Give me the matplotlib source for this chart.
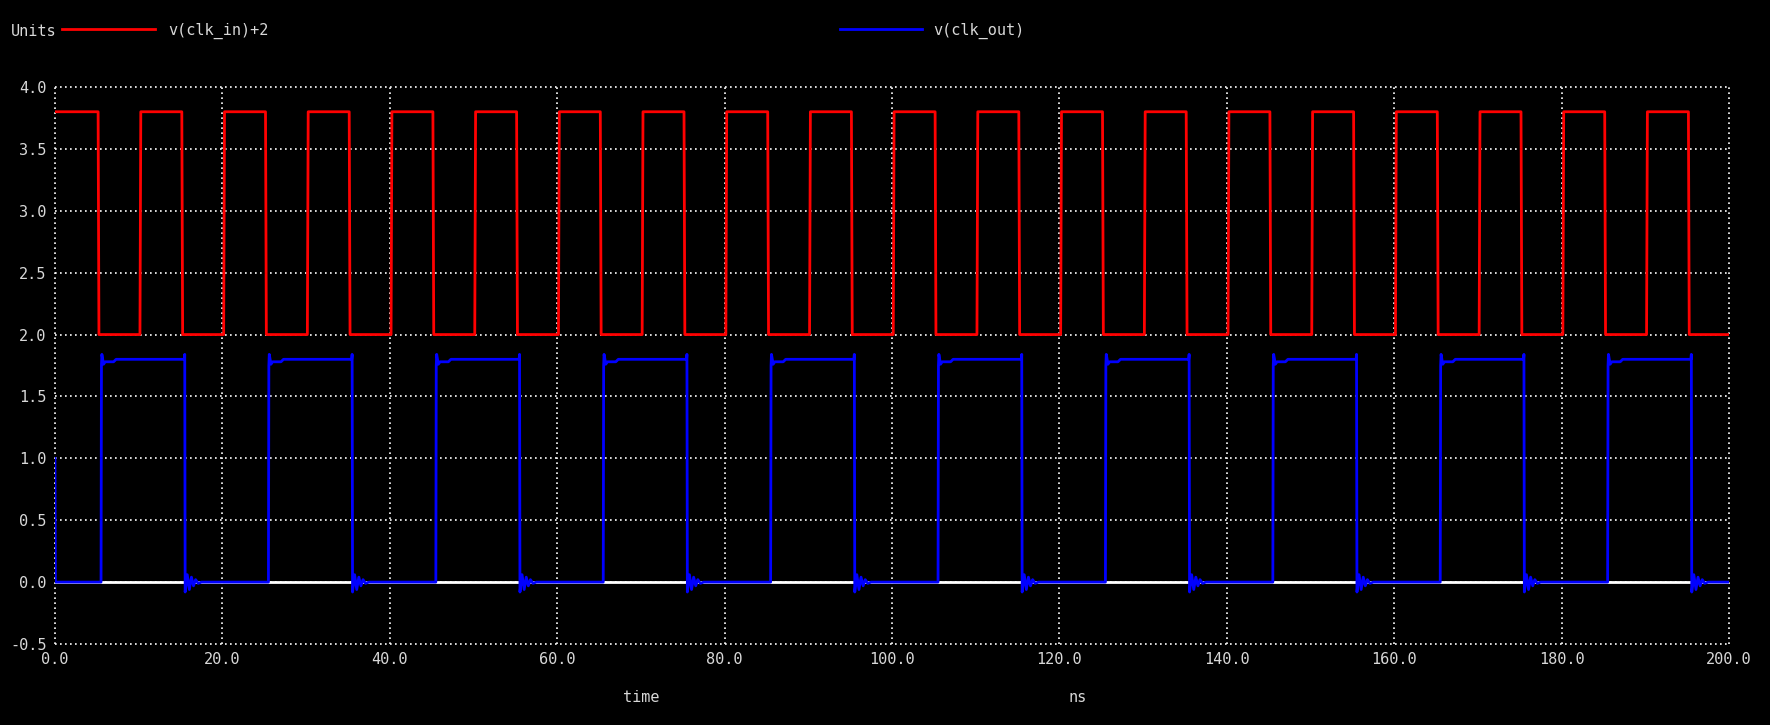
import numpy as np
import matplotlib
matplotlib.use('Agg')
import matplotlib.pyplot as plt

# clock input edges (ns), high level 1.8 V shifted by +2
clk_in_rise = [0.2 + 10 * k for k in range(20)]
clk_in_fall = [5.2 + 10 * k for k in range(20)]
clk_in_hi, clk_in_lo = 3.8, 2.0

# divided clock output edges (ns)
clk_out_rise = [5.5 + 20 * k for k in range(10)]
clk_out_fall = [15.5 + 20 * k for k in range(10)]
# edge shapes (offset ns, volts)
rise_shape_t = [0.0, 0.05, 0.1, 0.3, 0.5, 1.5, 1.8]
rise_shape_v = [0.0, 1.75, 1.84, 1.76, 1.78, 1.78, 1.80]
fall_shape_t = [-0.05, 0.0, 0.05, 0.3, 0.55, 0.8, 1.05, 1.3, 1.6, 2.0]
fall_shape_v = [1.80, 1.84, -0.08, 0.06, -0.06, 0.04, -0.03, 0.02, -0.01, 0.0]

xticks = [0, 20, 40, 60, 80, 100, 120, 140, 160, 180, 200]
yticks = [-0.5, 0.0, 0.5, 1.0, 1.5, 2.0, 2.5, 3.0, 3.5, 4.0]

FG = '#d8d8d8'
FONT = 'DejaVu Sans Mono'

# build red trace
t_in, v_in = [0.0], [clk_in_hi]
for r, f in zip(clk_in_rise, clk_in_fall):
    if r > 0.5:
        t_in += [r - 0.05, r + 0.05]
        v_in += [clk_in_lo, clk_in_hi]
    t_in += [f - 0.05, f + 0.05]
    v_in += [clk_in_hi, clk_in_lo]
t_in.append(200.0)
v_in.append(clk_in_lo)

# build blue trace
t_out, v_out = [0.0, 0.05], [1.0, 0.0]
for r, f in zip(clk_out_rise, clk_out_fall):
    t_out += [r + d for d in rise_shape_t]
    v_out += rise_shape_v
    t_out += [f + d for d in fall_shape_t]
    v_out += fall_shape_v
t_out.append(200.0)
v_out.append(0.0)

fig = plt.figure(figsize=(17.7, 7.25), dpi=100, facecolor='black')
ax = fig.add_axes([55 / 1770, 1 - 644 / 725, (1729 - 55) / 1770, (644 - 87) / 725])
ax.set_facecolor('black')
ax.set_xlim(0, 200)
ax.set_ylim(-0.5, 4.0)
ax.set_xticks(xticks)
ax.set_yticks(yticks)
ax.set_xticklabels([f'{x:.1f}' for x in xticks], family=FONT, color=FG, fontsize=11)
ax.set_yticklabels([f'{y:.1f}' for y in yticks], family=FONT, color=FG, fontsize=11)
ax.tick_params(length=0, pad=6)
for s in ax.spines.values():
    s.set_visible(False)
ax.grid(True, color='white', linestyle=(0, (1, 2)), linewidth=1.2, clip_on=False)
ax.set_axisbelow(True)

ax.axhline(0, color='white', linewidth=2, zorder=1)
ax.plot(t_in, v_in, color='#ff0000', linewidth=2, zorder=3)
ax.plot(t_out, v_out, color='#0000ff', linewidth=2, zorder=2)

# header legend and axis labels
fig.text(11 / 1770, 1 - 31 / 725, 'Units', family=FONT, color=FG, fontsize=11, va='center')
fig.add_artist(plt.Line2D([62 / 1770, 155 / 1770], [1 - 29 / 725] * 2, color='#ff0000', linewidth=2))
fig.text(168 / 1770, 1 - 31 / 725, 'v(clk_in)+2', family=FONT, color=FG, fontsize=11, va='center')
fig.add_artist(plt.Line2D([840 / 1770, 922 / 1770], [1 - 29 / 725] * 2, color='#0000ff', linewidth=2))
fig.text(933 / 1770, 1 - 31 / 725, 'v(clk_out)', family=FONT, color=FG, fontsize=11, va='center')
fig.text(641 / 1770, 1 - 698 / 725, 'time', family=FONT, color=FG, fontsize=11, ha='center', va='center')
fig.text(1078 / 1770, 1 - 698 / 725, 'ns', family=FONT, color=FG, fontsize=11, ha='center', va='center')

fig.savefig('out.png', dpi=100, facecolor='black')
